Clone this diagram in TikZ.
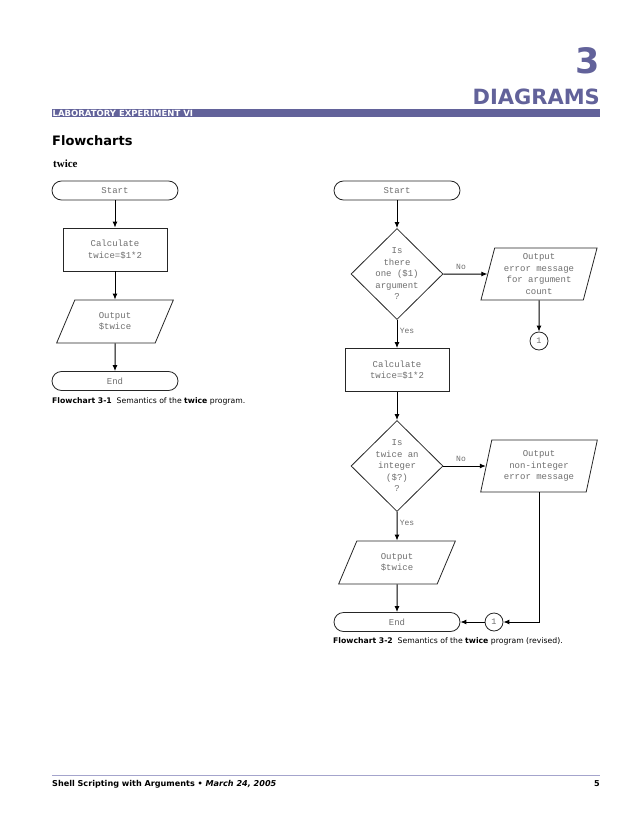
\documentclass[tikz,border=0pt]{standalone}
\usepackage{fontspec}
\setmainfont{DejaVu Sans}
\newfontfamily\flowfont{Liberation Mono}
\newfontfamily\headserif{Liberation Serif}
\usetikzlibrary{shapes.geometric,arrows.meta,positioning}
\definecolor{chapblue}{HTML}{62629A}
\definecolor{flowgray}{HTML}{6E6E6E}
\definecolor{rulecol}{HTML}{A4A4CC}
\tikzset{
  boxline/.style={draw=black!85, line width=0.8pt},
  terminal/.style={boxline, rounded corners=9.5pt, minimum width=126pt, minimum height=19pt,
    inner sep=0pt, font=\flowfont\fontsize{9}{11.5}\selectfont, text=flowgray},
  process/.style={boxline, minimum width=104pt, minimum height=43pt, inner sep=0pt, align=center,
    font=\flowfont\fontsize{9}{11.5}\selectfont, text=flowgray},
  iobox/.style={boxline, trapezium, trapezium left angle=68, trapezium right angle=112,
    trapezium stretches=true, minimum width=117pt, minimum height=43pt, inner sep=0pt,
    align=center, font=\flowfont\fontsize{9}{11.5}\selectfont, text=flowgray},
  errbox/.style={iobox, trapezium left angle=75, trapezium right angle=105, minimum height=52pt},
  decision/.style={boxline, diamond, minimum width=92pt, minimum height=91pt, inner sep=0pt},
  decisiontext/.style={align=center, inner sep=0pt, font=\flowfont\fontsize{9}{11.5}\selectfont, text=flowgray},
  joint/.style={boxline, circle, minimum size=18pt, inner sep=0pt,
    font=\flowfont\fontsize{8.5}{10}\selectfont, text=flowgray},
  branch/.style={inner sep=0pt, font=\flowfont\fontsize{8}{10}\selectfont, text=flowgray},
  flow/.style={-{Latex[length=6pt,width=5pt]}, line width=1pt, black},
  caption/.style={anchor=base west, inner sep=0pt, font=\fontsize{7.7}{9}\selectfont}
}
\begin{document}
\begin{tikzpicture}[x=1pt,y=-1pt]
  \useasboundingbox (0,0) rectangle (638,826);
  % page head
  \node[anchor=base east, inner sep=0pt, text=chapblue, font=\bfseries\fontsize{35}{40}\selectfont] (chapnum) at (600,73.5) {3};
  \node[anchor=base east, inner sep=0pt, text=chapblue, font=\bfseries\fontsize{21}{24}\selectfont] (chaptitle) at (600,105) {DIAGRAMS};
  \fill[chapblue] (52,109) rectangle (600,117);
  \node[anchor=base west, inner sep=0pt, text=white, font=\bfseries\fontsize{8.5}{9}\selectfont] (lab) at (52.5,116.3) {LABORATORY EXPERIMENT VI};
  \node[anchor=base west, inner sep=0pt, font=\bfseries\fontsize{13}{15}\selectfont] (sect) at (52,146) {Flowcharts};
  \node[anchor=base west, inner sep=0pt, font=\headserif\bfseries\fontsize{11}{13}\selectfont] (subsect) at (53,168) {twice};

  % flowchart 3-1
  \node[terminal] (start1) at (115,190.5) {Start};
  \node[process] (calc1) at (115,249.5) {Calculate\\twice=\$1*2};
  \node[iobox] (out1) at (115,321.5) {Output\\\$twice};
  \node[terminal] (end1) at (115,381) {End};
  \node[caption] (cap1) at (52,403) {\textbf{Flowchart 3-1}\ \ Semantics of the \textbf{twice} program.};

  % flowchart 3-2
  \node[terminal] (start2) at (397,190.5) {Start};
  \node[decision] (q1) at (397,274) {};
  \node[decisiontext] (q1text) at (q1) {Is\\there\\one (\$1)\\argument\\?};
  \node[errbox] (err1) at (539,274) {Output\\error message\\for argument\\count};
  \node[joint] (con1) at (539,341) {1};
  \node[process] (calc2) at (397,370) {Calculate\\twice=\$1*2};
  \node[decision] (q2) at (397,466) {};
  \node[decisiontext] (q2text) at (q2) {Is\\twice an\\integer\\(\$?)\\?};
  \node[errbox] (err2) at (539,466) {Output\\non-integer\\error message};
  \node[iobox] (out2) at (397,562.5) {Output\\\$twice};
  \node[terminal] (end2) at (397,622) {End};
  \node[joint] (con2) at (494,622) {1};
  \node[caption] (cap2) at (333,643) {\textbf{Flowchart 3-2}\ \ Semantics of the \textbf{twice} program (revised).};

  \node[branch] (no1) at (461,267) {No};
  \node[branch] (yes1) at (407,331) {Yes};
  \node[branch] (no2) at (461,459) {No};
  \node[branch] (yes2) at (407,523) {Yes};

  \foreach \a/\b in {start1/calc1,calc1/out1,out1/end1,start2/q1,q1/err1,err1/con1,
                     q1/calc2,calc2/q2,q2/err2,q2/out2,out2/end2,con2/end2}
    \draw[flow] (\a) -- (\b);
  \draw[flow] (err2.south) |- (con2.east);

  % page foot
  \draw[rulecol, line width=0.8pt] (52,775.5) -- (600,775.5);
  \node[anchor=base west, inner sep=0pt, font=\bfseries\fontsize{8.1}{9}\selectfont] (foot) at (52,786.5) {Shell Scripting with Arguments \textbullet{} \textit{March 24, 2005}};
  \node[anchor=base east, inner sep=0pt, font=\bfseries\fontsize{8.1}{9}\selectfont] (pageno) at (600,786.5) {5};
\end{tikzpicture}
\end{document}
